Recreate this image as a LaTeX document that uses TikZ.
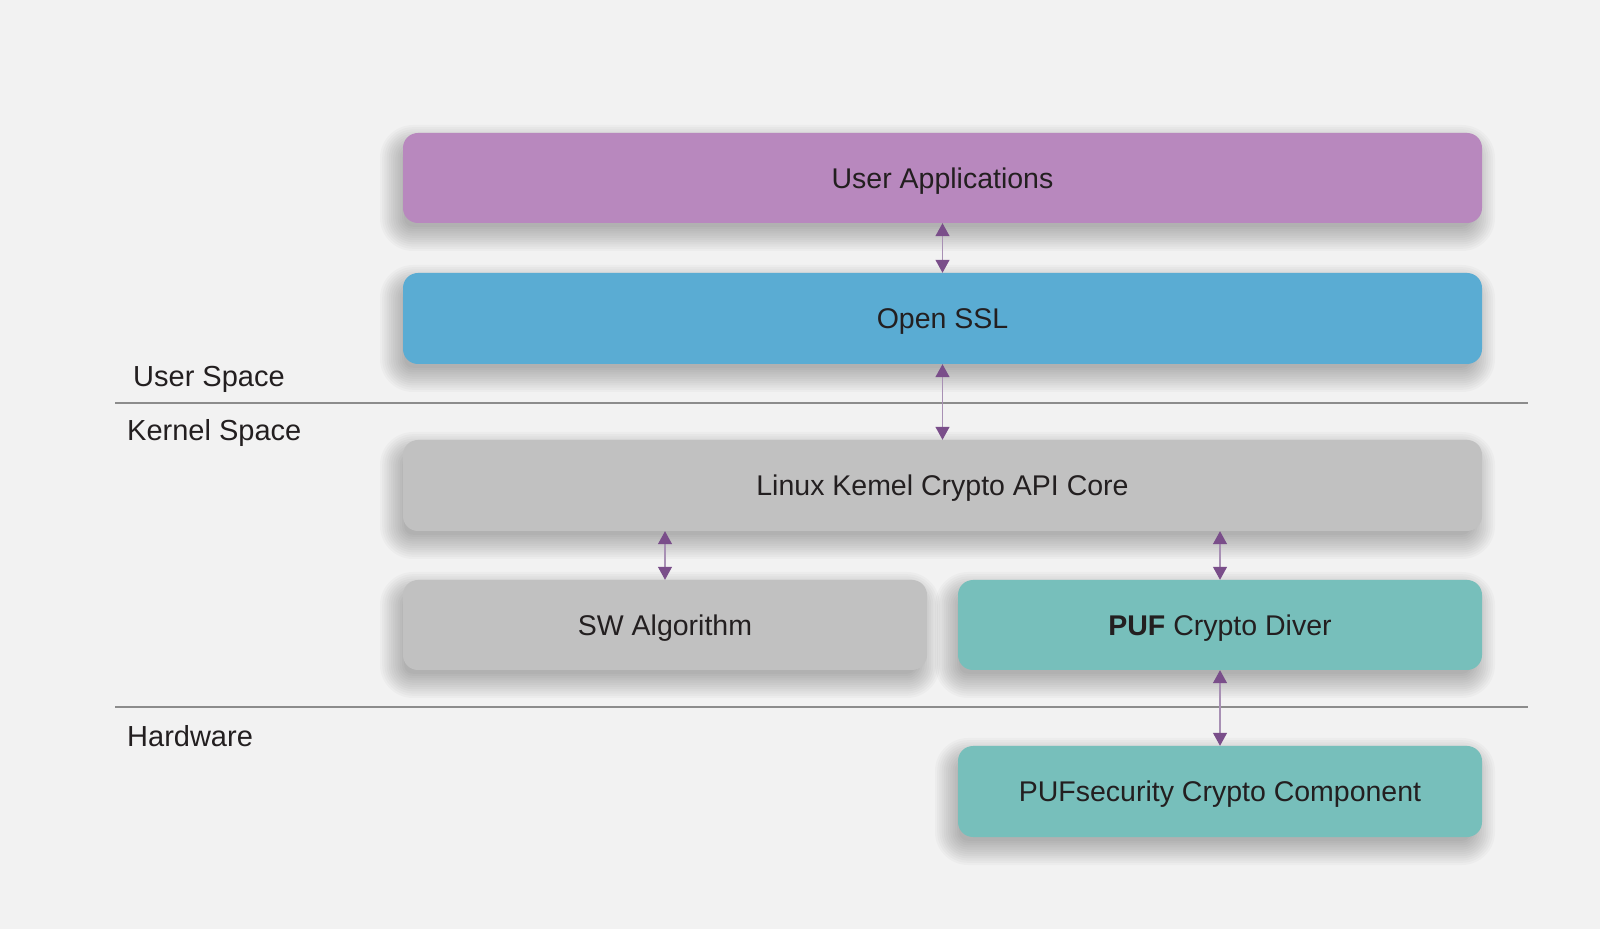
\documentclass[tikz,border=0pt]{standalone}
\usepackage{fontspec}
\setmainfont{Liberation Sans}
\usetikzlibrary{arrows.meta}
\definecolor{bgc}{HTML}{F2F2F2}
\definecolor{ucol}{HTML}{B888BE}
\definecolor{scol}{HTML}{5AACD3}
\definecolor{gcol}{HTML}{C1C1C1}
\definecolor{tcol}{HTML}{77BFBB}
\definecolor{txt}{HTML}{231F20}
\definecolor{arrdark}{HTML}{7A4E8A}
\definecolor{arrlight}{HTML}{A890B4}
\definecolor{sepc}{HTML}{8C8C8C}
\tikzset{
  layer/.style={rectangle, rounded corners=15pt, inner sep=0pt, text=txt,
    font=\fontsize{28.5pt}{32pt}\selectfont, text height=20.4pt, text depth=0pt},
  shadowpiece/.style={fill=black, fill opacity=0.022, draw=none},
  lbl/.style={anchor=west, inner sep=0pt, text=txt, font=\fontsize{29pt}{32pt}\selectfont,
    text height=20.8pt, text depth=0pt},
  link/.style={draw=arrlight, line width=1.2pt,
    {Triangle[width=14pt,length=13pt,color=arrdark]}-{Triangle[width=14pt,length=13pt,color=arrdark]}},
  sep/.style={draw=sepc, line width=1.3pt}
}
% #1 name, #2 cx, #3 cy, #4 width, #5 height, #6 colour, #7 text
\newcommand\mklayer[7]{%
  \foreach \k in {0,...,11}{%
    \pgfmathsetmacro\ee{18-2.2*\k}%
    \pgfmathsetmacro\rc{max(15+\ee,4)}%
    \fill[shadowpiece, rounded corners=\rc pt]
      ({#2-#4/2-\ee-5},{#3-#5/2-\ee-10}) rectangle ({#2+#4/2+\ee-5},{#3+#5/2+\ee-10});
  }%
  \node[layer, fill=#6, minimum width=#4pt, minimum height=#5pt] (#1) at (#2,#3) {#7};%
}
\begin{document}
\begin{tikzpicture}[x=1pt,y=1pt]
\fill[bgc] (0,0) rectangle (1600,929);
\useasboundingbox (0,0) rectangle (1600,929);
% separators
\coordinate (s1a) at (115,526);
\coordinate (s1b) at (1528,526);
\coordinate (s2a) at (115,222);
\coordinate (s2b) at (1528,222);
\draw[sep] (s1a) -- (s1b);
\draw[sep] (s2a) -- (s2b);
% layers
\mklayer{ua}{942.5}{751}{1079}{90}{ucol}{User Applications}
\mklayer{ssl}{942.5}{610.5}{1079}{91}{scol}{Open SSL}
\mklayer{core}{942.5}{443.5}{1079}{91}{gcol}{Linux Kemel Crypto API Core}
\mklayer{sw}{665}{304}{524}{90}{gcol}{SW Algorithm}
\mklayer{drv}{1220}{304}{524}{90}{tcol}{\textbf{PUF} Crypto Diver}
\mklayer{comp}{1220}{137.5}{524}{91}{tcol}{PUFsecurity Crypto Component}
% labels
\node[lbl] (lu) at (133,552.5) {User Space};
\node[lbl] (lk) at (127,498.4) {Kernel Space};
\node[lbl] (lh) at (127,193.3) {Hardware};
% links
\draw[link] (ua.south) -- (ssl.north);
\draw[link] (ssl.south) -- (core.north);
\draw[link] (core.south -| sw.north) -- (sw.north);
\draw[link] (core.south -| drv.north) -- (drv.north);
\draw[link] (drv.south) -- (comp.north);
\end{tikzpicture}
\end{document}
